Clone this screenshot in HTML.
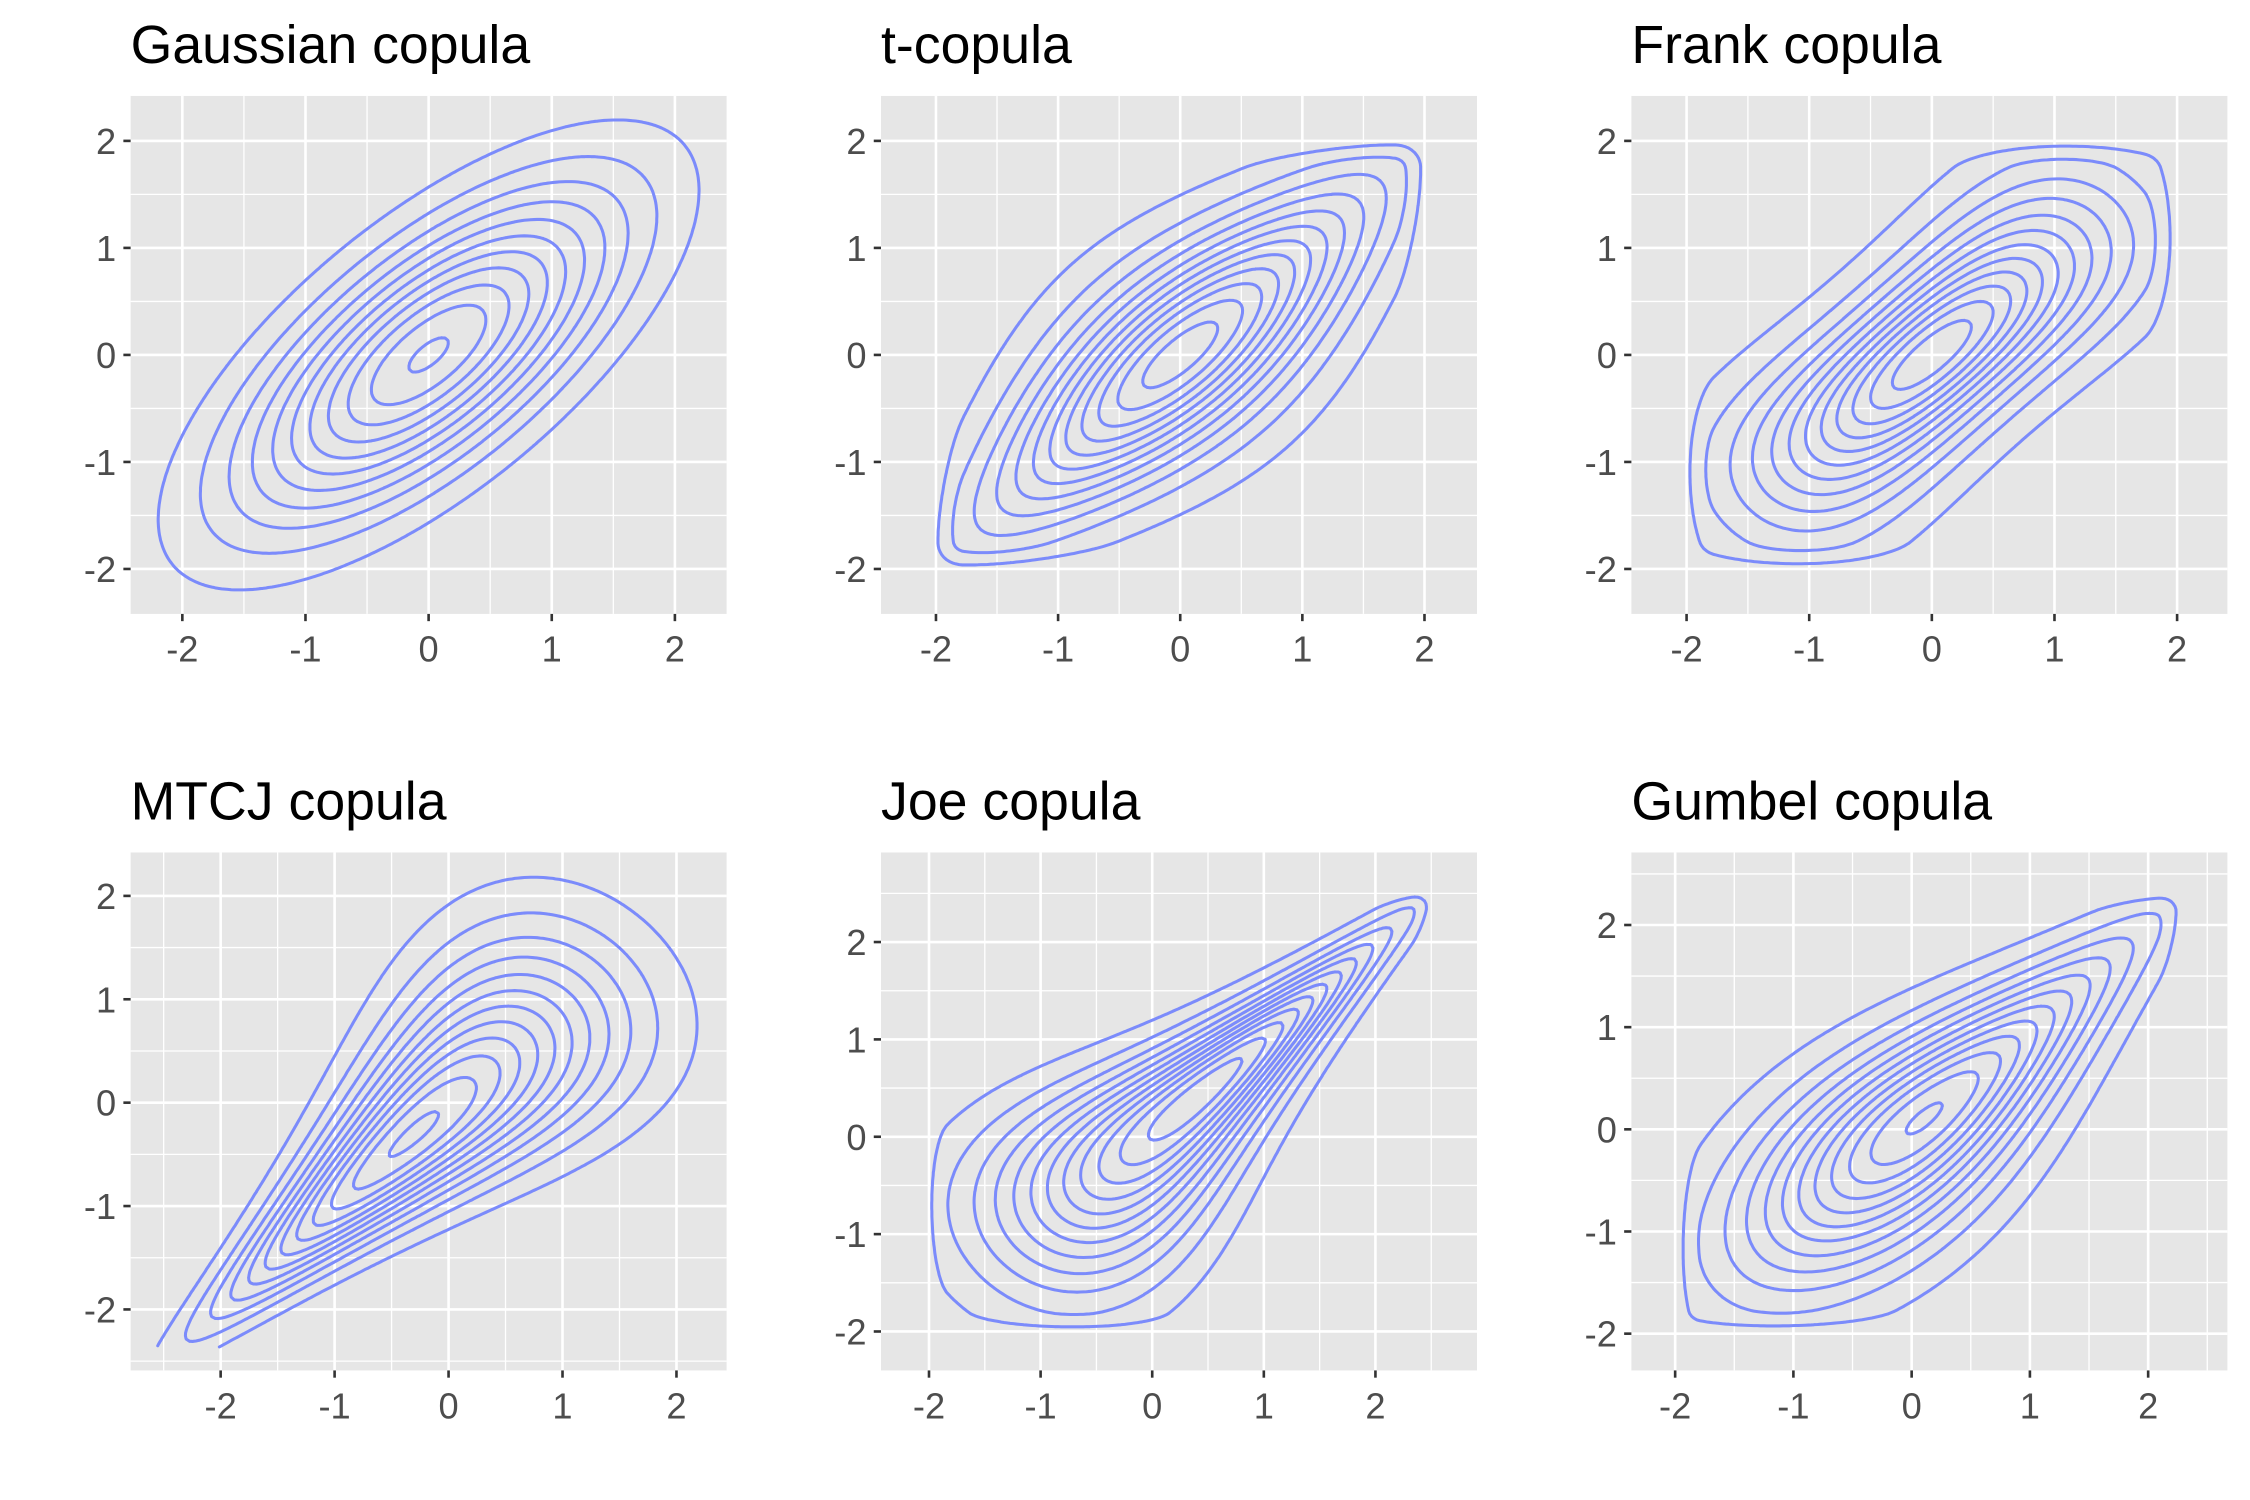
<!DOCTYPE html>
<html><head><meta charset="utf-8"><style>
html,body{margin:0;padding:0;background:#fff;}
svg{display:block;}
</style></head><body>
<svg id="fig" width="2250" height="1500" viewBox="0 0 1552 1035" preserveAspectRatio="none" xmlns="http://www.w3.org/2000/svg">
<rect x="0" y="0" width="1552" height="1035" fill="#ffffff"/>
</svg>
<script>
const panelTitles=["Gaussian copula","t-copula","Frank copula","MTCJ copula","Joe copula","Gumbel copula"];
const copulaFamilies=["gaussian","t","frank","clayton","joe","gumbel"];
const copulaParams=[0.7,0.7,5.74,2,2.86,2];
const boundaryTaper=[0,0.45,0.45,0,0.35,0.35];
const xLimits=[[-2.42,2.42],[-2.45,2.43],[-2.45,2.41],[-2.79,2.44],[-2.43,2.91],[-2.37,2.67]];
const yLimits=[[-2.42,2.42],[-2.42,2.42],[-2.42,2.42],[-2.59,2.42],[-2.40,2.92],[-2.36,2.71]];
const tickValues=[-2,-1,0,1,2];
const tickLabels=["-2","-1","0","1","2"];
const contourLevels=[0.02,0.04,0.06,0.08,0.10,0.12,0.14,0.16,0.18,0.20,0.22,0.24,0.26,0.28,0.30,0.32,0.34,0.36];

const NS="http://www.w3.org/2000/svg";
const svg=document.getElementById("fig");
const PW=411.1, PH=357.4, colX=[90.1,607.7,1125.3], rowY=[66.2,588.2];

function erfc(x){const z=Math.abs(x);const t=1/(1+0.5*z);
 const r=t*Math.exp(-z*z-1.26551223+t*(1.00002368+t*(0.37409196+t*(0.09678418+t*(-0.18628806+t*(0.27886807+t*(-1.13520398+t*(1.48851587+t*(-0.82215223+t*0.17087277)))))))));
 return x>=0?r:2-r;}
function Phi(x){return 0.5*erfc(-x/Math.SQRT2);}
function phi(x){return Math.exp(-x*x/2)/Math.sqrt(2*Math.PI);}
function tq4(p){const a=4*p*(1-p);const sa=Math.sqrt(a);const q=Math.cos(Math.acos(Math.min(1,sa))/3)/sa;return (p<0.5?-1:1)*2*Math.sqrt(Math.max(0,q-1));}
function t1(t){return 0.375*Math.pow(1+t*t/4,-2.5);}

function copDens(fam,th,x,y){
 const u=Phi(x),v=Phi(y),ub=Phi(-x),vb=Phi(-y);
 if(fam==="gaussian"){const r=th;const q=(x*x-2*r*x*y+y*y)/(1-r*r);
   return Math.exp(-q/2)/(2*Math.PI*Math.sqrt(1-r*r));}
 let cc=0;
 if(fam==="t"){const r=th;const a=tq4(u),b=tq4(v);
   const f2=1/(2*Math.PI*Math.sqrt(1-r*r))*Math.pow(1+(a*a-2*r*a*b+b*b)/(4*(1-r*r)),-3);
   cc=f2/(t1(a)*t1(b));}
 else if(fam==="frank"){const e=1-Math.exp(-th);
   const d=e-(1-Math.exp(-th*u))*(1-Math.exp(-th*v));
   cc=th*e*Math.exp(-th*(u+v))/(d*d);}
 else if(fam==="clayton"){
   cc=(1+th)*Math.pow(u*v,-th-1)*Math.pow(Math.pow(u,-th)+Math.pow(v,-th)-1,-1/th-2);}
 else if(fam==="gumbel"){const lu=-Math.log(u),lv=-Math.log(v);
   const s=Math.pow(lu,th)+Math.pow(lv,th);const A=Math.pow(s,1/th);
   cc=Math.exp(-A)/(u*v)*Math.pow(lu*lv,th-1)*Math.pow(s,-2+1/th)*(A+th-1);}
 else if(fam==="joe"){const a=Math.pow(ub,th),b=Math.pow(vb,th);const s=a+b-a*b;
   cc=Math.pow(s,1/th-2)*Math.pow(ub,th-1)*Math.pow(vb,th-1)*(th-1+s);}
 return cc*phi(x)*phi(y);
}
function taper(t,r){if(r<=0||t>=r)return 1;if(t<=0)return 0;const q=t/r;return q*q*(3-2*q);}

function mk(tag,attrs,parent){const e=document.createElementNS(NS,tag);for(const k in attrs)e.setAttribute(k,attrs[k]);(parent||svg).appendChild(e);return e;}

for(let p=0;p<6;p++){
 const L=colX[p%3],T=rowY[Math.floor(p/3)];
 const [x0,x1]=xLimits[p],[y0,y1]=yLimits[p];
 const sx=x=>L+(x-x0)/(x1-x0)*PW;
 const sy=y=>T+PH-(y-y0)/(y1-y0)*PH;
 const g=mk("g",{});
 
 
 const title=mk("text",{x:L,y:T-22.7,"font-family":"Liberation Sans, Arial, sans-serif","font-size":"37",fill:"#000"},g);
 title.textContent=panelTitles[p];
 
 
 const bg=mk("rect",{x:L,y:T,width:PW,height:PH,fill:"#E6E6E6"},g);
 
 
 for(let k=-3;k<=3;k++){const m=k+0.5;
  if(m>x0&&m<x1){const l=mk("line",{x1:sx(m),x2:sx(m),y1:T,y2:T+PH,stroke:"#fff","stroke-width":"0.9"},g);
   
   }
  if(m>y0&&m<y1){const l=mk("line",{x1:L,x2:L+PW,y1:sy(m),y2:sy(m),stroke:"#fff","stroke-width":"0.9"},g);
   
   }
 }
 tickValues.forEach((v,i)=>{
  const gx=mk("line",{x1:sx(v),x2:sx(v),y1:T,y2:T+PH,stroke:"#fff","stroke-width":"1.8"},g);
  
  
  const gy=mk("line",{x1:L,x2:L+PW,y1:sy(v),y2:sy(v),stroke:"#fff","stroke-width":"1.8"},g);
  
  
  const tx=mk("line",{x1:sx(v),x2:sx(v),y1:T+PH,y2:T+PH+5,stroke:"#333","stroke-width":"1.8"},g);
  
  
  const ty=mk("line",{x1:L-5,x2:L,y1:sy(v),y2:sy(v),stroke:"#333","stroke-width":"1.8"},g);
  
  
  const lx=mk("text",{x:sx(v),y:T+PH+33,"text-anchor":"middle","font-family":"Liberation Sans, Arial, sans-serif","font-size":"25",fill:"#4D4D4D"},g);
  lx.textContent=tickLabels[i];
  
  
  const ly=mk("text",{x:L-10,y:sy(v)+9,"text-anchor":"end","font-family":"Liberation Sans, Arial, sans-serif","font-size":"25",fill:"#4D4D4D"},g);
  ly.textContent=tickLabels[i];
  
  
 });
 const cx=(x0+x1)/2,hx=(x1-x0)/2/1.1,cy=(y0+y1)/2,hy=(y1-y0)/2/1.1;
 const dx0=cx-hx,dx1=cx+hx,dy0=cy-hy,dy1=cy+hy;
 const N=170, tr=boundaryTaper[p];
 const xs=[],ys=[];for(let i=0;i<=N;i++){xs.push(dx0+(dx1-dx0)*i/N);ys.push(dy0+(dy1-dy0)*i/N);}
 const G=[];
 for(let j=0;j<=N;j++){const row=[];for(let i=0;i<=N;i++){
   let d=copDens(copulaFamilies[p],copulaParams[p],xs[i],ys[j]);if(!isFinite(d))d=0;
   d*=taper(xs[i]-dx0,tr)*taper(dx1-xs[i],tr)*taper(ys[j]-dy0,tr)*taper(dy1-ys[j],tr);
   row.push(d);}G.push(row);}
 let maxD=0;G.forEach(r=>r.forEach(v=>{if(v>maxD)maxD=v;}));
 contourLevels.forEach(lev=>{
  if(lev>=maxD)return;
  let dstr="";
  for(let j=0;j<N;j++)for(let i=0;i<N;i++){
   const a=G[j][i],b=G[j][i+1],c=G[j+1][i+1],d=G[j+1][i];
   const pts=[];
   const edge=(va,vb,xa,ya,xb,yb)=>{if((va>=lev)!==(vb>=lev)){const t=(lev-va)/(vb-va);pts.push([xa+(xb-xa)*t,ya+(yb-ya)*t]);}};
   edge(a,b,xs[i],ys[j],xs[i+1],ys[j]);
   edge(b,c,xs[i+1],ys[j],xs[i+1],ys[j+1]);
   edge(d,c,xs[i],ys[j+1],xs[i+1],ys[j+1]);
   edge(a,d,xs[i],ys[j],xs[i],ys[j+1]);
   for(let k=0;k+1<pts.length;k+=2){
    dstr+="M"+sx(pts[k][0]).toFixed(1)+" "+sy(pts[k][1]).toFixed(1)+"L"+sx(pts[k+1][0]).toFixed(1)+" "+sy(pts[k+1][1]).toFixed(1);
   }
  }
  const path=mk("path",{d:dstr,fill:"none",stroke:"#7B8BFB","stroke-width":"2.1","stroke-linecap":"round"},g);
  
  
 });
}
</script>
</body></html>
